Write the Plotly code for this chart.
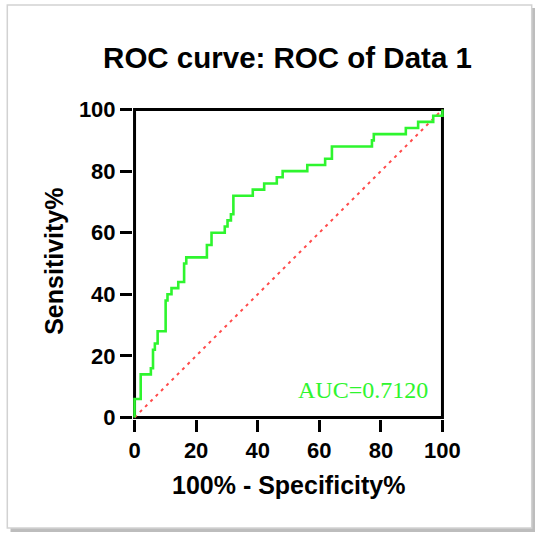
import plotly.graph_objects as go

# ROC step corners (100% - specificity%, sensitivity%)
fpr = [0, 0, 2, 5.3, 6, 6.6, 7.5, 10.1, 10.7, 12, 14.2, 16.1, 16.8, 23.5, 25,
       29.3, 30.2, 31.3, 32.1, 38.4, 42.1, 46.2, 48.1, 56.1, 61.9, 64.1, 77.1,
       77.7, 88.1, 92.1, 97, 100, 100]
tpr = [0, 6, 14, 16, 22, 24, 28, 38, 40, 42, 44, 50, 52, 56, 60,
       62, 64, 66, 72, 74, 76, 78, 80, 82, 84, 88, 90,
       92, 94, 96, 98, 98, 100]
chance_x = [0, 100]
chance_y = [0, 100]
tick_vals = [0, 20, 40, 60, 80, 100]
auc_label = "AUC=0.7120"

W, H = 541, 539
L, R, T, B = 133, 97, 108, 120
PW, PH = W - L - R, H - T - B


def px_x(p):
    return (p - L) / PW


def px_y(p):
    return (H - B - p) / PH


fig = go.Figure()

fig.add_trace(go.Scatter(
    x=chance_x, y=chance_y, mode="lines",
    line=dict(color="#ff4a4a", width=2, dash="3px,4.5px"),
    hoverinfo="skip",
))
fig.add_trace(go.Scatter(
    x=fpr, y=tpr, mode="lines",
    line=dict(color="#2ef52e", width=2.6, shape="hv"),
))

# picture frame with a soft shadow
fig.add_shape(type="rect", xref="paper", yref="paper", layer="below",
              x0=px_x(10.5), x1=px_x(535), y0=px_y(532), y1=px_y(8),
              fillcolor="#bdbdbd", line=dict(width=0))
fig.add_shape(type="rect", xref="paper", yref="paper", layer="below",
              x0=px_x(7.3), x1=px_x(531.7), y0=px_y(528), y1=px_y(5),
              fillcolor="white", line=dict(color="#d2d2d2", width=1.5))
# black box round the plot
fig.add_shape(type="rect", xref="x", yref="y", layer="below",
              x0=0, x1=100, y0=0, y1=100,
              line=dict(color="black", width=3))

axis_style = dict(
    range=[-0.5, 100.5], tickvals=tick_vals, ticks="outside", ticklen=12,
    tickwidth=3, tickcolor="black", showgrid=False, zeroline=False,
    showline=False, fixedrange=True,
    tickfont=dict(family="Liberation Sans", size=22, color="black", weight="bold"),
)
fig.update_xaxes(**axis_style)
fig.update_yaxes(**axis_style)

fig.add_annotation(x=96, y=8.8, xref="x", yref="y", text=auc_label,
                   showarrow=False, xanchor="right", yanchor="middle",
                   font=dict(family="Liberation Serif", size=24, color="#2ef52e"))
fig.add_annotation(x=px_x(288.3), y=px_y(484.7), xref="paper", yref="paper",
                   text="<b>100% - Specificity%</b>", showarrow=False,
                   xanchor="center", yanchor="middle",
                   font=dict(family="Liberation Sans", size=25, color="black"))
fig.add_annotation(x=px_x(53.3), y=px_y(261.5), xref="paper", yref="paper",
                   text="<b>Sensitivity%</b>", showarrow=False, textangle=-90,
                   xanchor="center", yanchor="middle",
                   font=dict(family="Liberation Sans", size=25, color="black"))

fig.update_layout(
    width=W, height=H,
    margin=dict(l=L, r=R, t=T, b=B),
    paper_bgcolor="white", plot_bgcolor="rgba(0,0,0,0)",
    showlegend=False,
    title=dict(text="<b>ROC curve: ROC of Data 1</b>", x=287.5 / W,
               xanchor="center", yref="container", y=1 - 57.5 / H, yanchor="middle",
               font=dict(family="Liberation Sans", size=29.5, color="black")),
)

# drop the browser's default page margin so the figure sits at the corner
fig.write_html("out.html", config={"displayModeBar": False},
               post_script="document.body.style.margin='0px';")
